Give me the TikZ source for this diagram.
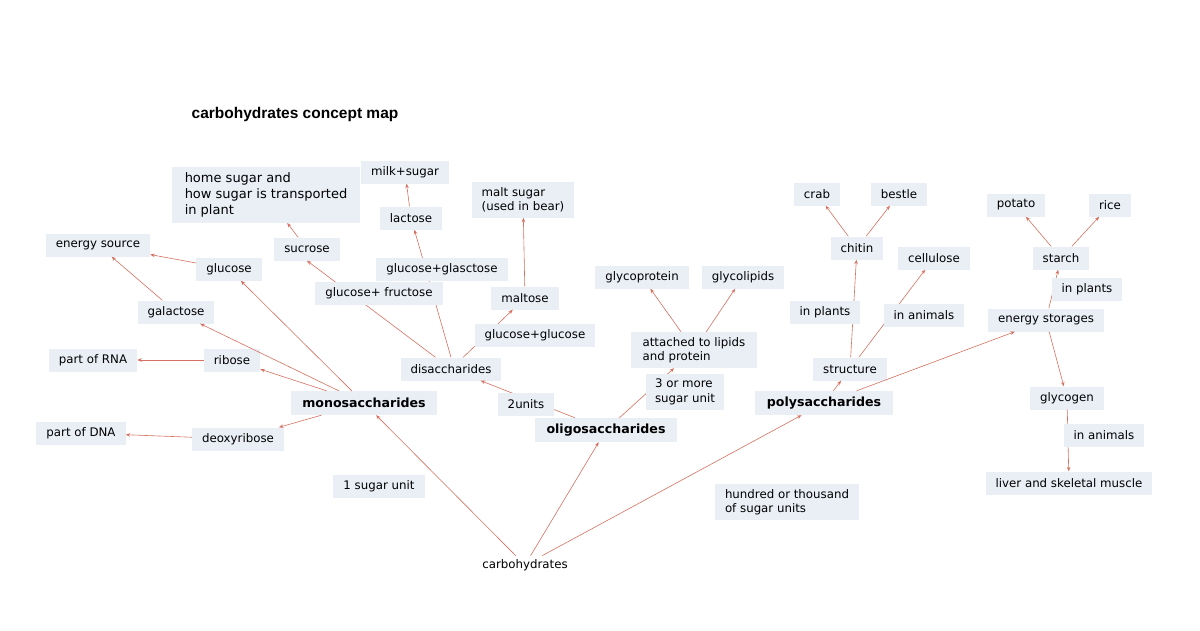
\documentclass[tikz,border=0pt]{standalone}
\usepackage{fontspec}
\setmainfont{DejaVu Sans}
\newfontfamily\titlefont{Liberation Sans}
\usetikzlibrary{arrows.meta}
\definecolor{boxfill}{RGB}{233,239,245}
\definecolor{linkred}{RGB}{214,112,96}

\begin{document}
\begin{tikzpicture}[
    x=1pt, y=-1pt,
    >=Stealth,
    concept/.style={rectangle, fill=boxfill, inner xsep=10pt, inner ysep=4pt, minimum height=23pt, font=\fontsize{11.8}{14.5}\selectfont},
    keyconcept/.style={concept, inner xsep=11.5pt, minimum height=24pt, font=\fontsize{12.6}{15}\selectfont\bfseries},
    note/.style={concept, align=left, inner ysep=5pt},
    link/.style={->, draw=linkred, line width=0.6pt, >={Stealth[length=4.5pt,width=3.5pt]}},
]
\useasboundingbox (0,0) rectangle (1200,630);

\node[font=\titlefont\fontsize{15.5}{18}\selectfont\bfseries] (title) at (295,114) {carbohydrates concept map};

% ---------- root and the three classes ----------
\node[font=\fontsize{11.8}{14.5}\selectfont] (carb) at (525,565) {carbohydrates};
\node[keyconcept] (mono)  at (364,403) {monosaccharides};
\node[keyconcept] (oligo) at (606,430) {oligosaccharides};
\node[keyconcept] (poly)  at (824,403) {polysaccharides};

% ---------- monosaccharides ----------
\node[concept] (glucose)   at (229,269) {glucose};
\node[concept] (energy)    at (98,245)  {energy source};
\node[concept] (galactose) at (176,312) {galactose};
\node[concept] (ribose)    at (232,360) {ribose};
\node[concept] (rna)       at (93,360)  {part of RNA};
\node[concept] (deoxy)     at (238,439) {deoxyribose};
\node[concept] (dna)       at (81,433)  {part of DNA};

% ---------- oligosaccharides ----------
\node[concept] (disacc)  at (451,369) {disaccharides};
\node[concept] (sucrose) at (307,249) {sucrose};
\node[note, font=\fontsize{13}{16}\selectfont, minimum width=188pt, inner ysep=5.5pt] (home) at (266,195)
    {home sugar and\\how sugar is transported\\in plant};
\node[concept] (lactose) at (411,218) {lactose};
\node[concept] (milk)    at (405,172) {milk+sugar};
\node[concept] (maltose) at (525,298) {maltose};
\node[note]    (malt)    at (523,200) {malt sugar\\(used in bear)};
\node[note, inner xsep=12pt] (attached) at (694,350) {attached to lipids\\and protein};
\node[concept] (glycoprot) at (642,277) {glycoprotein};
\node[concept] (glycolip)  at (743,277) {glycolipids};

% ---------- polysaccharides ----------
\node[concept] (structure) at (850,369) {structure};
\node[concept] (chitin)    at (857,248) {chitin};
\node[concept] (crab)      at (817,194) {crab};
\node[concept] (bestle)    at (899,194) {bestle};
\node[concept] (cellulose) at (934,258) {cellulose};
\node[concept] (storage)   at (1046,320) {energy storages};
\node[concept] (starch)    at (1061,258) {starch};
\node[concept] (potato)    at (1016,205) {potato};
\node[concept] (rice)      at (1110,205) {rice};
\node[concept] (glycogen)  at (1067,398) {glycogen};
\node[concept] (liver)     at (1069,483) {liver and skeletal muscle};

% ---------- links ----------
\draw[link] (carb) -- (mono);
\draw[link] (carb) -- (oligo);
\draw[link] (carb) -- (poly);
\draw[link] (mono) -- (glucose);
\draw[link] (mono) -- (galactose);
\draw[link] (mono) -- (ribose);
\draw[link] (mono) -- (deoxy);
\draw[link] (glucose) -- (energy);
\draw[link] (galactose) -- (energy);
\draw[link] (ribose) -- (rna);
\draw[link] (deoxy) -- (dna);
\draw[link] (oligo) -- (disacc);
\draw[link] (oligo) -- (attached);
\draw[link] (disacc) -- (sucrose.south);
\draw[link] (disacc.north) -- (lactose);
\draw[link] (disacc) -- (maltose);
\draw[link] (sucrose) -- (home);
\draw[link] (lactose) -- (milk);
\draw[link] (maltose) -- (malt);
\draw[link] (attached) -- (glycoprot);
\draw[link] (attached) -- (glycolip);
\draw[link] (poly) -- (structure);
\draw[link] (poly) -- (storage);
\draw[link] (structure) -- (chitin);
\draw[link] (structure) -- (cellulose);
\draw[link] (chitin) -- (crab);
\draw[link] (chitin) -- (bestle);
\draw[link] (storage) -- (starch);
\draw[link] (storage) -- (glycogen);
\draw[link] (starch) -- (potato);
\draw[link] (starch) -- (rice);
\draw[link] (glycogen) -- (liver);

% ---------- linking words (on top of the links) ----------
\node[concept] (twounits)  at (526,404) {2units};
\node[concept] (glufru)    at (379,293) {glucose+ fructose};
\node[concept] (glugal)    at (442,269) {glucose+glasctose};
\node[concept] (gluglu)    at (535,335) {glucose+glucose};
\node[note, inner xsep=9pt] (threeunits) at (685,392) {3 or more\\sugar unit};
\node[concept] (inplantsa)  at (825,312)  {in plants};
\node[concept] (inanimalsa) at (924,315)  {in animals};
\node[concept] (inplantsb)  at (1087,289) {in plants};
\node[concept] (inanimalsb) at (1104,435) {in animals};
\node[concept] (oneunit)   at (379,486) {1 sugar unit};
\node[note]    (manyunits) at (787,502) {hundred or thousand\\of sugar units};
\end{tikzpicture}
\end{document}
